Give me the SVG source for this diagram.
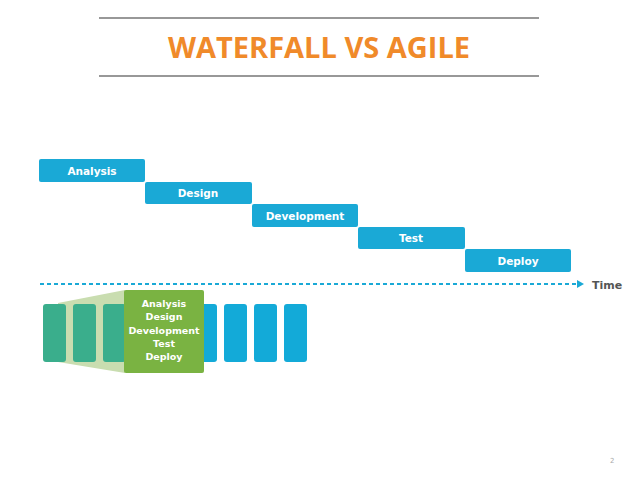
<svg xmlns="http://www.w3.org/2000/svg" width="638" height="479" viewBox="0 0 638 479">
<style>
.bar{fill:#1aa9d6}
.bt{font-family:"DejaVu Sans",sans-serif;font-weight:bold;font-size:10.5px;fill:#fff;text-anchor:middle}
.gt{font-family:"DejaVu Sans",sans-serif;font-weight:bold;font-size:9.5px;fill:#fff;text-anchor:middle}
.tl{fill:#3aae8c}
.bl{fill:#13aad8}
</style>
<rect width="638" height="479" fill="#fff"/>
<line x1="99" y1="18" x2="539" y2="18" stroke="#333" stroke-width="1.2"/>
<line x1="99" y1="76" x2="539" y2="76" stroke="#333" stroke-width="1.2"/>
<text x="319" y="58" font-family="'Open Sans','DejaVu Sans',sans-serif" font-weight="bold" font-size="29" fill="#f08a2a" text-anchor="middle">WATERFALL VS AGILE</text>
<g id="analysis"><rect class="bar" x="39" y="159" width="106" height="23" rx="2"/><text class="bt" x="92" y="175">Analysis</text></g>
<g id="design"><rect class="bar" x="145" y="182" width="107" height="22" rx="2"/><text class="bt" x="198" y="197">Design</text></g>
<g id="development"><rect class="bar" x="252" y="204" width="106" height="23" rx="2"/><text class="bt" x="305" y="220">Development</text></g>
<g id="test"><rect class="bar" x="358" y="227" width="107" height="22" rx="2"/><text class="bt" x="411" y="242">Test</text></g>
<g id="deploy"><rect class="bar" x="465" y="249" width="106" height="23" rx="2"/><text class="bt" x="518" y="265">Deploy</text></g>
<g id="connectors">
<line x1="40" y1="284" x2="578" y2="284" stroke="#1aa9d6" stroke-width="2" stroke-dasharray="4,3"/>
<polygon points="577,280 584,284 577,288" fill="#1aa9d6"/>
</g>
<text x="592" y="289" font-family="'DejaVu Sans',sans-serif" font-weight="bold" font-size="11" fill="#555">Time</text>
<g id="agile">
<polygon points="58,303 125,290 125,373 58,362" fill="#c9ddb0"/>
<rect class="tl" x="43" y="304" width="23" height="58" rx="3"/>
<rect class="tl" x="73" y="304" width="23" height="58" rx="3"/>
<rect class="tl" x="103" y="304" width="23" height="58" rx="3"/>
<rect class="bl" x="194" y="304" width="23" height="58" rx="3"/>
<rect class="bl" x="224" y="304" width="23" height="58" rx="3"/>
<rect class="bl" x="254" y="304" width="23" height="58" rx="3"/>
<rect class="bl" x="284" y="304" width="23" height="58" rx="3"/>
<rect x="124" y="290" width="80" height="83" rx="2" fill="#7ab342"/>
<text class="gt" x="164" y="307">Analysis</text>
<text class="gt" x="164" y="320">Design</text>
<text class="gt" x="164" y="334">Development</text>
<text class="gt" x="164" y="347">Test</text>
<text class="gt" x="164" y="360">Deploy</text>
</g>
<text x="610" y="463" font-family="'DejaVu Sans',sans-serif" font-size="7" fill="#aaa">2</text>
</svg>
